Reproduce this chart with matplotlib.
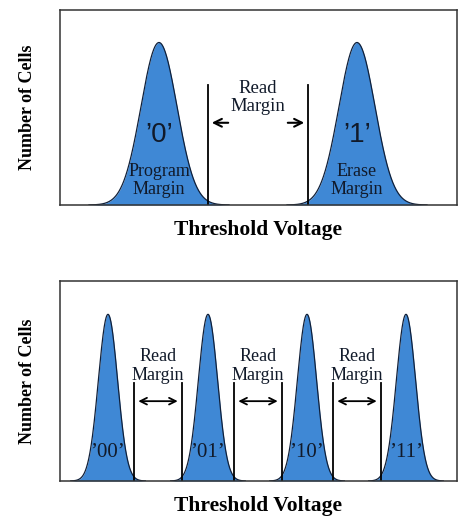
import numpy as np
import matplotlib
matplotlib.use("Agg")
import matplotlib.pyplot as plt

# ---- data (x in arbitrary voltage units, y normalised count) ----
top_centers = [99, 297]
top_sigma = 18.0
top_labels = ["\u20190\u2019", "\u20191\u2019"]
top_sublabels = ["Program\nMargin", "Erase\nMargin"]
top_margin_lines = [148, 248]

bot_centers = [48, 148, 247, 346]
bot_sigma = 9.6
bot_labels = ["\u201900\u2019", "\u201901\u2019", "\u201910\u2019", "\u201911\u2019"]
bot_margin_lines = [(74, 122), (174, 222), (273, 321)]

FILL = "#3f88d5"
EDGE = "#10203a"
TXT = "#111a2a"
SERIF = ["Liberation Serif", "DejaVu Serif"]
SANS = ["Liberation Sans", "DejaVu Sans"]

fig = plt.figure(figsize=(4.74, 5.24), dpi=100)
ax1 = fig.add_axes([60/474, 1-205/524, 397/474, 195/524])
ax2 = fig.add_axes([60/474, 1-481/524, 397/474, 200/524])

x = np.linspace(0, 397, 2000)

def style(ax):
    ax.set_xlim(0, 397)
    ax.set_ylim(0, 1.2)
    ax.set_xticks([]); ax.set_yticks([])
    for s in ax.spines.values():
        s.set_color("#333333"); s.set_linewidth(1.1)

# ---- top panel ----
style(ax1)
for c, lab, sub in zip(top_centers, top_labels, top_sublabels):
    y = np.exp(-(x - c)**2 / (2*top_sigma**2))
    m = y > 0.0005
    ax1.fill_between(x[m], 0, y[m], color=FILL, lw=0)
    ax1.plot(x[m], y[m], color=EDGE, lw=0.9)
    ax1.text(c, 0.43, lab, ha="center", va="center", fontsize=20, family=SANS, color=TXT)
    ax1.text(c, 0.15, sub, ha="center", va="center", fontsize=13, family=SERIF,
             color=TXT, linespacing=1.1)
for lx in top_margin_lines:
    ax1.plot([lx, lx], [0, 0.74], color="black", lw=1.3)
ay = 0.506
ax1.annotate("", xy=(top_margin_lines[0] + 1, ay), xytext=(top_margin_lines[0] + 23, ay),
             arrowprops=dict(arrowstyle="->", lw=1.5, color="black", mutation_scale=14))
ax1.annotate("", xy=(top_margin_lines[1] - 1, ay), xytext=(top_margin_lines[1] - 23, ay),
             arrowprops=dict(arrowstyle="->", lw=1.5, color="black", mutation_scale=14))
ax1.text(sum(top_margin_lines)/2, 0.66, "Read\nMargin", ha="center", va="center",
         fontsize=13.5, family=SERIF, color=TXT, linespacing=1.1)
ax1.set_ylabel("Number of Cells", fontsize=13, family=SERIF, fontweight="bold", labelpad=17)
ax1.set_xlabel("Threshold Voltage", fontsize=15.5, family=SERIF, fontweight="bold", labelpad=11)

# ---- bottom panel ----
style(ax2)
for c, lab in zip(bot_centers, bot_labels):
    y = np.exp(-(x - c)**2 / (2*bot_sigma**2))
    m = y > 0.0005
    ax2.fill_between(x[m], 0, y[m], color=FILL, lw=0)
    ax2.plot(x[m], y[m], color=EDGE, lw=0.9)
    ax2.text(c, 0.17, lab, ha="center", va="center", fontsize=15, family=SERIF, color=TXT)
for l, r in bot_margin_lines:
    for lx in (l, r):
        ax2.plot([lx, lx], [0, 0.59], color="black", lw=1.3)
    ax2.annotate("", xy=(l + 1.5, 0.479), xytext=(r - 1.5, 0.479),
                 arrowprops=dict(arrowstyle="<->", lw=1.3, color="black", mutation_scale=12))
    ax2.text((l + r)/2, 0.69, "Read\nMargin", ha="center", va="center",
             fontsize=13, family=SERIF, color=TXT, linespacing=1.1)
ax2.set_ylabel("Number of Cells", fontsize=13, family=SERIF, fontweight="bold", labelpad=17)
ax2.set_xlabel("Threshold Voltage", fontsize=15.5, family=SERIF, fontweight="bold", labelpad=11)

fig.savefig("out.png", dpi=100)
